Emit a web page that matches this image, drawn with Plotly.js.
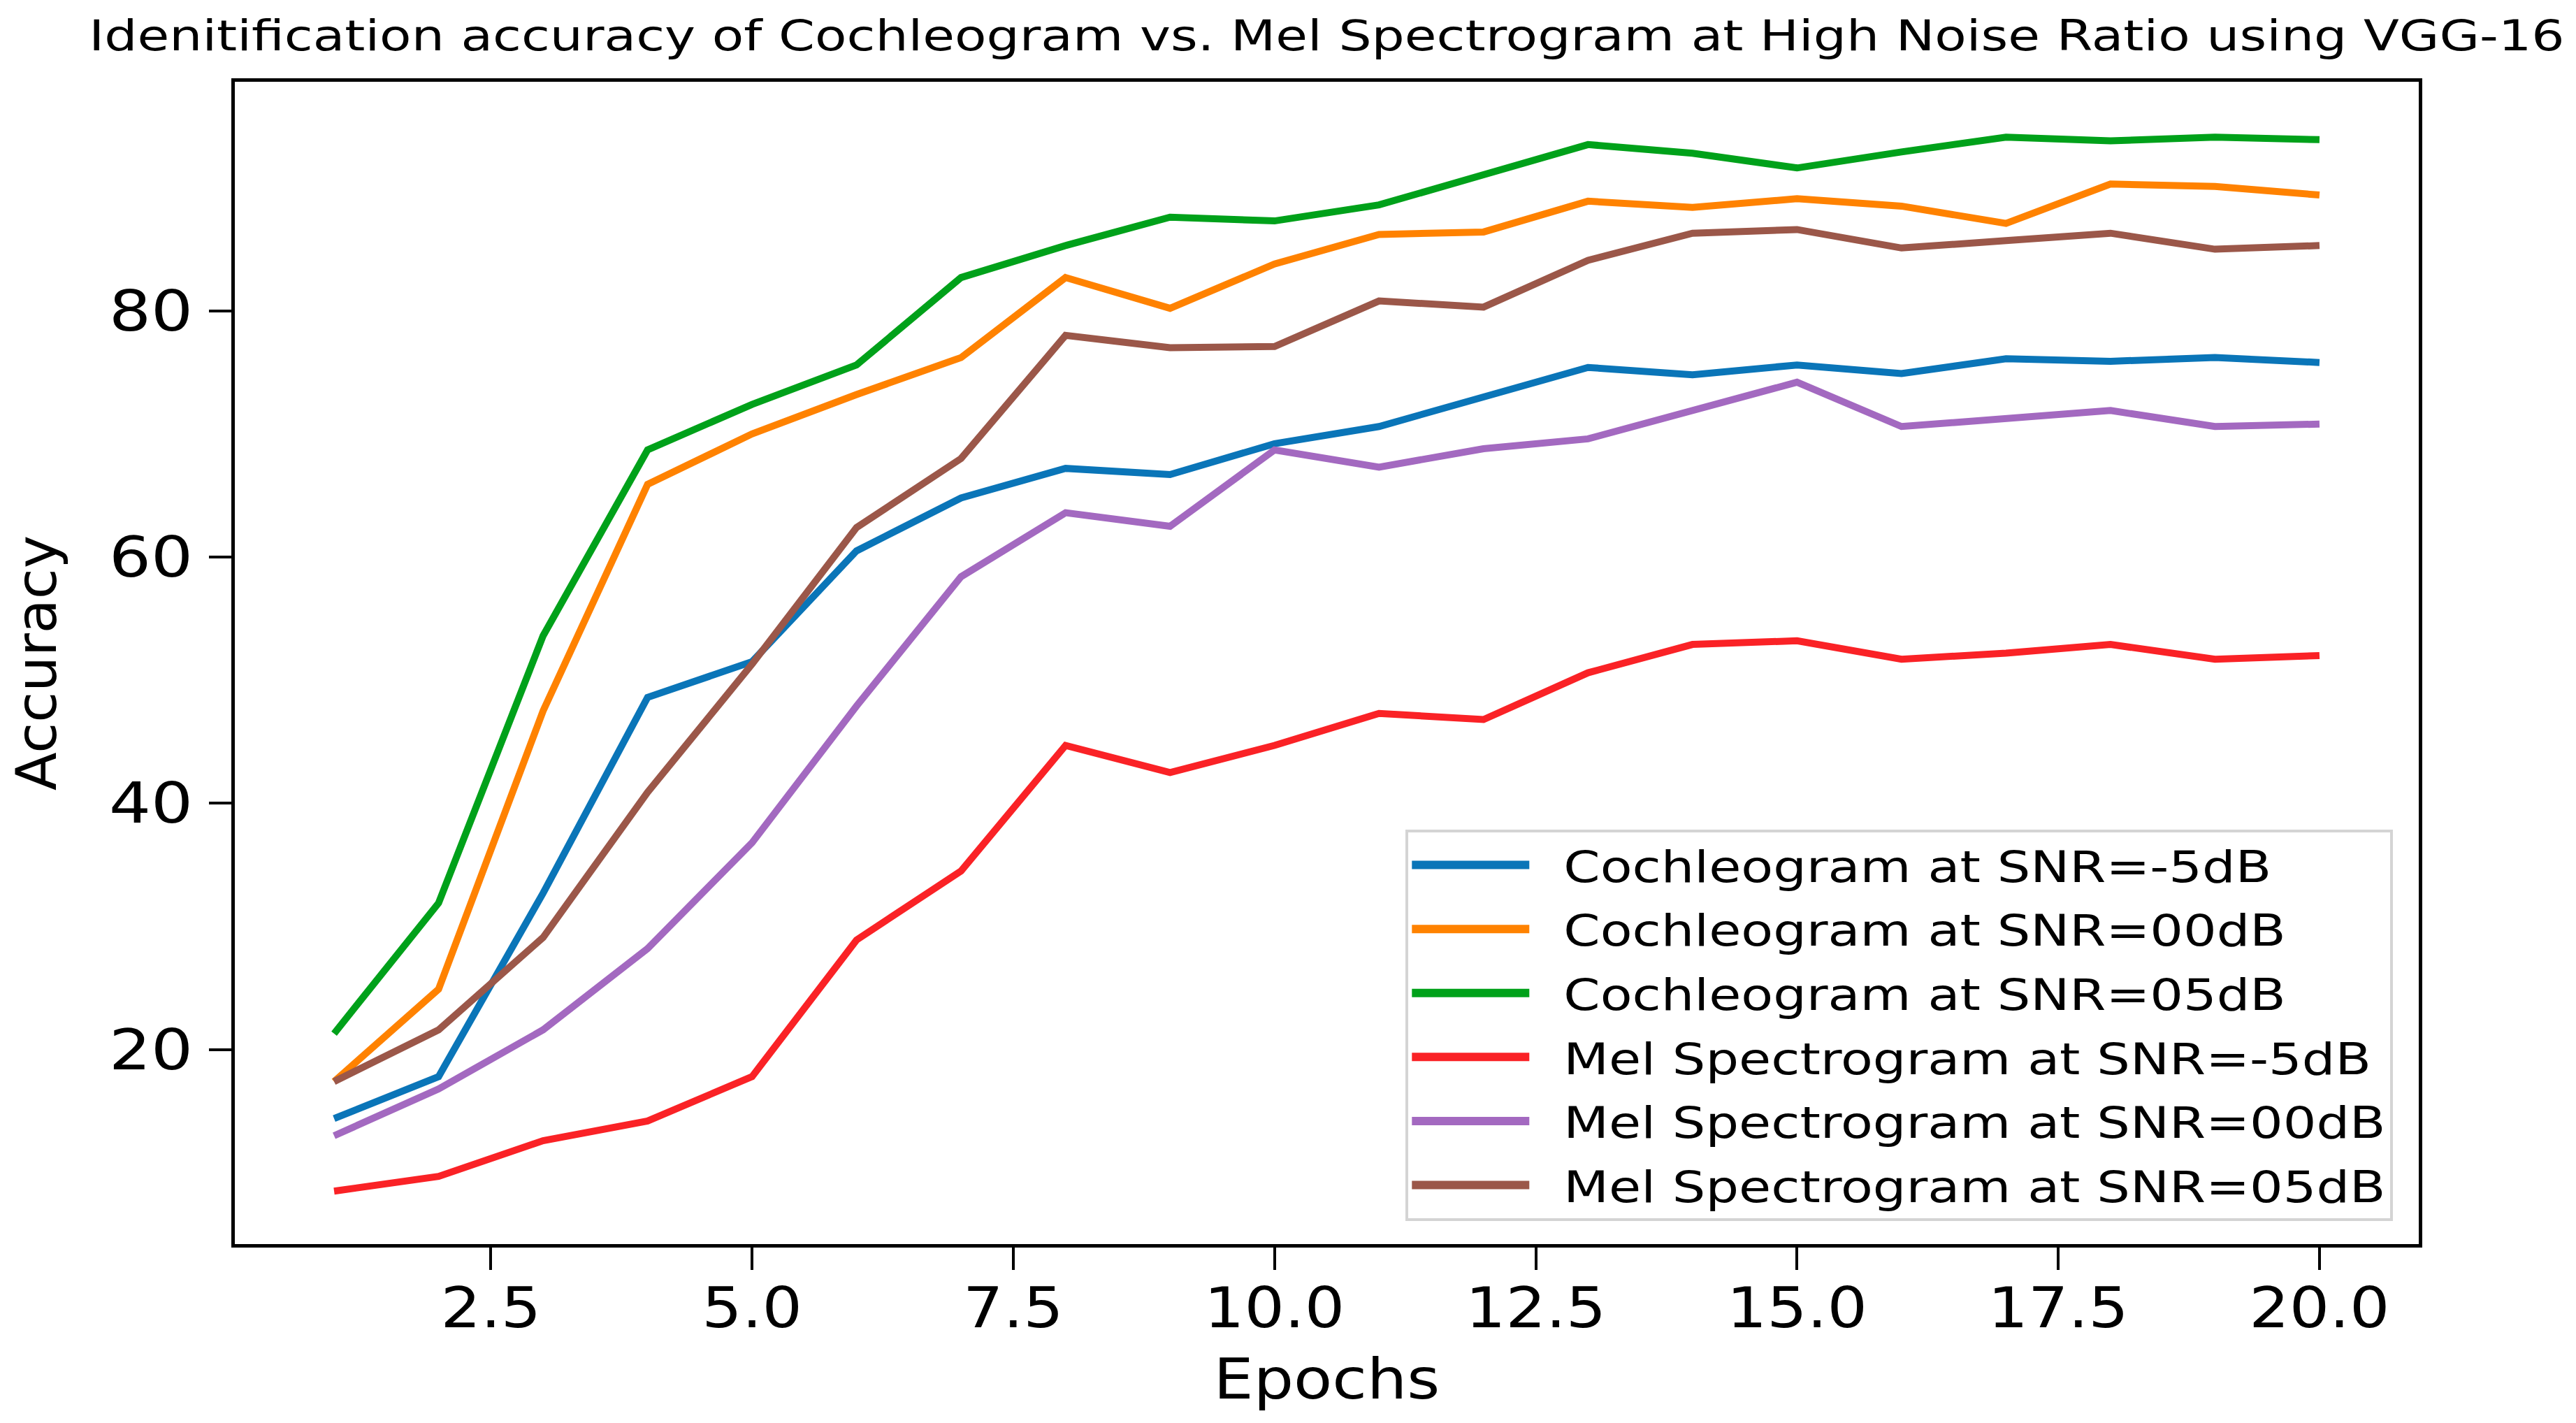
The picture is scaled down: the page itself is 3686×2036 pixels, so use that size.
<!DOCTYPE html>
<html>
<head>
<meta charset="utf-8">
<script src="https://cdn.plot.ly/plotly-3.0.1.min.js"></script>
<style>
html,body{margin:0;padding:0;background:#fff;}
#plotZone{width:3686px;height:2036px;}
</style>
</head>
<body>
<div id="plotZone"></div>
<script>
// epochs 1..20
var epochs=[1,2,3,4,5,6,7,8,9,10,11,12,13,14,15,16,17,18,19,20];

var cochM5=[14.4,17.8,32.7,48.6,51.5,60.5,64.8,67.2,66.7,69.2,70.6,73.0,75.4,74.8,75.6,74.9,76.1,75.9,76.2,75.8];
var coch00=[17.4,24.9,47.5,65.9,70.0,73.2,76.2,82.7,80.2,83.8,86.2,86.4,88.9,88.4,89.1,88.5,87.1,90.3,90.1,89.4];
var coch05=[21.3,31.9,53.6,68.7,72.4,75.6,82.7,85.3,87.6,87.3,88.6,91.0,93.5,92.8,91.6,92.9,94.1,93.8,94.1,93.9];
var melM5=[8.5,9.7,12.6,14.2,17.8,28.9,34.5,44.7,42.5,44.7,47.3,46.8,50.6,52.9,53.2,51.7,52.2,52.9,51.7,52.0];
var mel00=[13.0,16.8,21.6,28.2,36.8,47.9,58.4,63.6,62.5,68.7,67.3,68.8,69.6,71.9,74.2,70.6,71.2,71.9,70.6,70.8];
var mel05=[17.4,21.6,29.1,40.9,51.3,62.4,68.0,78.0,77.0,77.1,80.8,80.3,84.1,86.3,86.6,85.1,85.7,86.3,85.0,85.3];

var names=["Cochleogram at SNR=-5dB","Cochleogram at SNR=00dB","Cochleogram at SNR=05dB",
           "Mel Spectrogram at SNR=-5dB","Mel Spectrogram at SNR=00dB","Mel Spectrogram at SNR=05dB"];
var colors=["#0a75b8","#ff8200","#00a11a","#fa2226","#a369c0","#9b5749"];
var series=[cochM5,coch00,coch05,melM5,mel00,mel05];

var xTicks=[2.5,5.0,7.5,10.0,12.5,15.0,17.5,20.0];
var xTickText=["2.5","5.0","7.5","10.0","12.5","15.0","17.5","20.0"];
var yTicks=[20,40,60,80];

var data=[];
for(let i=0;i<series.length;i++){
    data.push({
        x:epochs,
        y:series[i],
        type:'scatter',
        mode:'lines',
        name:names[i],
        line:{color:colors[i],width:10}
    });
}

var fontFam='"DejaVu Sans", sans-serif';

var layout={
    width:3686,
    height:2036,
    paper_bgcolor:'#fff',
    plot_bgcolor:'#fff',
    font:{family:fontFam,color:'#000'},
    margin:{l:336,r:225,t:117,b:256},
    showlegend:true,
    title:{
        text:"Idenitification accuracy of Cochleogram vs. Mel Spectrogram at High Noise Ratio using VGG-16",
        font:{size:60,family:fontFam,color:'#000'},
        xref:'paper',x:0.5,xanchor:'center',
        yref:'container',y:0.975,yanchor:'middle'
    },
    xaxis:{
        range:[0.05,20.95],
        tickvals:xTicks,
        ticktext:xTickText,
        ticks:'outside',ticklen:32,tickwidth:4,tickcolor:'#000',
        tickfont:{size:80},
        ticklabelstandoff:-14,
        showline:true,linecolor:'#000',linewidth:5,mirror:true,
        showgrid:false,zeroline:false,
        title:{text:'Epochs',font:{size:80},standoff:46}
    },
    yaxis:{
        range:[4.2,98.6],
        tickvals:yTicks,
        ticks:'outside',ticklen:32,tickwidth:4,tickcolor:'#000',
        tickfont:{size:80},
        ticklabelstandoff:16,
        showline:true,linecolor:'#000',linewidth:5,mirror:true,
        showgrid:false,zeroline:false,
        title:{text:'Accuracy',font:{size:80},standoff:60}
    },
    legend:{
        x:0.988,y:0.02,xanchor:'right',yanchor:'bottom',
        bgcolor:'#fff',bordercolor:'#d4d4d4',borderwidth:4,
        font:{size:62,family:fontFam,color:'#000'},
        itemwidth:168,
        tracegroupgap:0
    }
};

// the reference text is drawn wider than plain DejaVu Sans, so widen it in place
function stretchText(el,s,dy){
    if(!el) return;
    var b=el.getBBox();
    var cx=b.x+b.width/2;
    var tr=el.getAttribute('transform')||'';
    el.setAttribute('transform','translate(0,'+(dy||0)+') '+tr+' translate('+cx+',0) scale('+s+',1) translate('+(-cx)+',0)');
}

function parseTranslate(tr){
    var m=/translate\(\s*([-\d.e]+)[ ,]+([-\d.e]+)\s*\)/.exec(tr||'');
    return m?[Number(m[1]),Number(m[2])]:[0,0];
}

function fixLegend(gd){
    var lg=gd.querySelector('g.legend');
    if(!lg) return;
    var shift=44, s=1.21, extra=8;
    var dw=0;
    var texts=lg.querySelectorAll('text.legendtext');
    texts.forEach(function(t){
        var b=t.getBBox();
        var x0=b.x;
        var tr=t.getAttribute('transform')||'';
        t.setAttribute('transform',tr+' translate('+(x0+shift)+',0) scale('+s+',1) translate('+(-x0)+',0)');
        dw=Math.max(dw,shift+b.width*(s-1));
    });
    lg.querySelectorAll('g.legendlines path').forEach(function(p){
        p.style.strokeWidth='12px';
    });
    var items=lg.querySelectorAll('g.traces');
    items.forEach(function(g,i){
        var p=parseTranslate(g.getAttribute('transform'));
        g.setAttribute('transform','translate('+p[0]+','+(p[1]+i*extra)+')');
    });
    var dh=(items.length-1)*extra;
    var bg=lg.querySelector('rect.bg');
    bg.setAttribute('width',Number(bg.getAttribute('width'))+dw);
    bg.setAttribute('height',Number(bg.getAttribute('height'))+dh);
    var clip=lg.querySelector('.scrollbox');
    var cp=clip?clip.getAttribute('clip-path'):null;
    if(cp){
        var id=/#([^)"']+)/.exec(cp)[1];
        var cr=gd.querySelector('clipPath[id="'+id+'"] rect');
        if(cr){
            cr.setAttribute('width',Number(cr.getAttribute('width'))+dw);
            cr.setAttribute('height',Number(cr.getAttribute('height'))+dh);
        }
    }
    var p=parseTranslate(lg.getAttribute('transform'));
    lg.setAttribute('transform','translate('+(p[0]-dw)+','+(p[1]-dh)+')');
}

Plotly.newPlot("plotZone",data,layout,{displayModeBar:false,staticPlot:true}).then(function(gd){
    stretchText(gd.querySelector('text.gtitle'),1.24);
    gd.querySelectorAll('g.xtick text').forEach(function(t){stretchText(t,1.13);});
    gd.querySelectorAll('g.ytick text').forEach(function(t){stretchText(t,1.18);});
    stretchText(gd.querySelector('text.xtitle'),1.13,-16);
    fixLegend(gd);
});
</script>
</body>
</html>
